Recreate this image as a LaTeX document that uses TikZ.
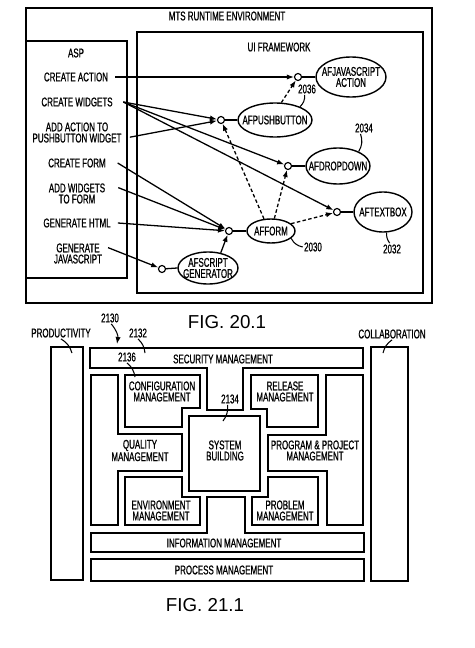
\documentclass[tikz,border=0pt]{standalone}
\usepackage{fontspec}
\newfontfamily\narrowfont{Liberation Sans}[FakeStretch=0.63, FakeBold=0.8]
\newfontfamily\figfont{Liberation Sans}
\usepackage{tikz}
\usetikzlibrary{shapes, arrows, positioning, arrows.meta}

\tikzset{
  txt/.style={font=\narrowfont\fontsize{10.8}{9.5}\selectfont, align=center, inner sep=1pt},
  figtxt/.style={font=\figfont\fontsize{16}{16}\selectfont, inner sep=0pt},
  elip/.style={draw, ellipse, line width=1.2pt, inner sep=0pt},
  port/.style={draw, circle, fill=white, line width=1pt, inner sep=0pt, minimum size=0.21cm},
  caja/.style={draw, line width=1.3pt},
  flecha/.style={line width=1.1pt, -{Latex[length=6pt,width=4.5pt]}},
  punteada/.style={flecha, dash pattern=on 3pt off 2pt},
  guia/.style={line width=0.9pt},
}

\begin{document}
\begin{tikzpicture}[x=0.03cm, y=-0.03cm]
        \useasboundingbox (0,0) rectangle (474,648);
        % FIG. 20.1
        % Marcos
        \draw[caja] (26,8) rectangle (432,303);
        \draw[caja] (137,32) rectangle (423,293);
        \draw[caja] (26,41) rectangle (127,278);
        \node[txt] (mts) at (227,16) {MTS RUNTIME ENVIRONMENT};
        \node[txt] (uif) at (279,47) {UI FRAMEWORK};
        \node[txt] (asp) at (76,53) {ASP};
        % Metodos de ASP
        \node[txt] (ca) at (76,77) {CREATE ACTION};
        \node[txt] (cw) at (77,102) {CREATE WIDGETS};
        \node[txt] (aa) at (77,132.5) {ADD ACTION TO\\PUSHBUTTON WIDGET};
        \node[txt] (cf) at (77,163) {CREATE FORM};
        \node[txt] (aw) at (77,193.5) {ADD WIDGETS\\TO FORM};
        \node[txt] (gh) at (77,223) {GENERATE HTML};
        \node[txt] (gj) at (78,253.5) {GENERATE\\JAVASCRIPT};
        % Objetos del UI framework
        \node[elip, minimum width=2.1cm, minimum height=1.2cm, label={[txt]center:AFJAVASCRIPT\\ACTION}] (ajs) at (351,77) {};
        \node[elip, minimum width=2.22cm, minimum height=1.02cm, label={[txt]center:AFPUSHBUTTON}] (apb) at (275,120) {};
        \node[elip, minimum width=1.92cm, minimum height=1.08cm, label={[txt]center:AFDROPDOWN}] (add) at (338,166) {};
        \node[elip, minimum width=1.74cm, minimum height=1.2cm, label={[txt]center:AFTEXTBOX}] (atb) at (383,212) {};
        \node[elip, minimum width=1.44cm, minimum height=0.72cm, label={[txt]center:AFFORM}] (afm) at (271,231) {};
        \node[elip, minimum width=1.8cm, minimum height=0.96cm, label={[txt]center:AFSCRIPT\\GENERATOR}] (asg) at (208,268) {};
        % Puertos
        \node[port] (pjs) at (298,77) {};
        \node[port] (ppb) at (221,120) {};
        \node[port] (pdd) at (288,166) {};
        \node[port] (ptb) at (337,212) {};
        \node[port] (pfm) at (229,231) {};
        \node[port] (psg) at (162,269) {};
        \draw[line width=1.1pt] (pjs) -- (ajs.west);
        \draw[line width=1.1pt] (ppb) -- (apb.west);
        \draw[line width=1.1pt] (pdd) -- (add.west);
        \draw[line width=1.1pt] (ptb) -- (atb.west);
        \draw[line width=1.1pt] (pfm) -- (afm.west);
        \draw[line width=1.1pt] (psg) -- (asg.west);
        % Llamadas
        \draw[flecha] ([xshift=5pt]ca.east) -- (pjs);
        \draw[flecha] ([xshift=8pt]cw.east) -- (ppb);
        \draw[flecha] ([xshift=8pt]cw.east) -- (pdd);
        \draw[flecha] ([xshift=8pt]cw.east) -- (ptb);
        \draw[flecha] ([xshift=6pt,yshift=-4pt]aa.east) -- (ppb);
        \draw[flecha] ([xshift=9pt]cf.east) -- (pfm);
        \draw[flecha] ([xshift=10pt,yshift=5pt]aw.east) -- (pfm);
        \draw[flecha] ([xshift=5pt]gh.east) -- (pfm);
        \draw[flecha] ([xshift=4pt,yshift=5pt]gj.east) -- (psg);
        \draw[flecha] (asg.50) -- (pfm);
        % Dependencias
        \draw[punteada] (apb.70) -- (pjs);
        \draw[punteada] (afm.120) -- (ppb);
        \draw[punteada] (afm.75) -- (pdd);
        \draw[punteada] (afm.20) -- (ptb);
        % Referencias
        \node[txt] (n2036) at (307,89) {2036};
        \node[txt] (n2034) at (364,128) {2034};
        \node[txt] (n2032) at (392,249) {2032};
        \node[txt] (n2030) at (313,247) {2030};
        \draw[guia] ([xshift=-2pt]n2036.south) to[bend left=25] (apb.28);
        \draw[guia] ([xshift=-3pt]n2034.south) to[bend left=25] (add.35);
        \draw[guia] ([xshift=-2pt]n2032.north) to[bend left=20] (atb.-80);
        \draw[guia] (n2030.west) to[bend left=25] (afm.-20);
        \node[figtxt] (f20) at (227,322) {FIG. 20.1};

        % FIG. 21.1
        % Columnas laterales
        \draw[caja] (51,347) rectangle (83,580);
        \draw[caja] (371,347) rectangle (408,581);
        % Bloques
        \draw[caja] (90,348) -- (363,348) -- (363,368) -- (243,368) -- (243,410) -- (207,410) -- (207,368) -- (90,368) -- cycle;
        \draw[caja] (125,375) -- (200,375) -- (200,408) -- (182,408) -- (182,427) -- (125,427) -- cycle;
        \draw[caja] (251,375) -- (318,375) -- (318,427) -- (267,427) -- (267,409) -- (251,409) -- cycle;
        \draw[caja] (91,375) -- (118,375) -- (118,434) -- (182,434) -- (182,471) -- (118,471) -- (118,525) -- (91,525) -- cycle;
        \draw[caja] (326,375) -- (363,375) -- (363,525) -- (327,525) -- (327,471) -- (268,471) -- (268,435) -- (326,435) -- cycle;
        \draw[caja] (189,416) rectangle (260,491);
        \draw[caja] (125,477) -- (182,477) -- (182,497) -- (200,497) -- (200,525) -- (125,525) -- cycle;
        \draw[caja] (268,477) -- (318,477) -- (318,525) -- (252,525) -- (252,497) -- (268,497) -- cycle;
        \draw[caja] (91,533) -- (207,533) -- (207,497) -- (245,497) -- (245,533) -- (364,533) -- (364,552) -- (91,552) -- cycle;
        \draw[caja] (91,559) rectangle (364,581);
        % Textos
        \node[txt] (prod) at (61,333) {PRODUCTIVITY};
        \node[txt] (colab) at (392,334) {COLLABORATION};
        \node[txt] (secm) at (223,359) {SECURITY MANAGEMENT};
        \node[txt] (confm) at (162,391.5) {CONFIGURATION\\MANAGEMENT};
        \node[txt] (relm) at (285,391.5) {RELEASE\\MANAGEMENT};
        \node[txt] (qualm) at (140,450.5) {QUALITY\\MANAGEMENT};
        \node[txt] (sysb) at (225,450.5) {SYSTEM\\BUILDING};
        \node[txt] (progm) at (315,450.5) {PROGRAM \& PROJECT\\MANAGEMENT};
        \node[txt] (envm) at (161,510.5) {ENVIRONMENT\\MANAGEMENT};
        \node[txt] (probm) at (285,510.5) {PROBLEM\\MANAGEMENT};
        \node[txt] (infm) at (224,543) {INFORMATION MANAGEMENT};
        \node[txt] (procm) at (224,570) {PROCESS MANAGEMENT};
        % Referencias
        \node[txt] (n2130) at (110,318) {2130};
        \node[txt] (n2132) at (138,333) {2132};
        \node[txt] (n2136) at (127,357) {2136};
        \node[txt] (n2134) at (230,399) {2134};
        \coordinate (e2130) at (117,344);
        \coordinate (e2132) at (145,353);
        \coordinate (e2136) at (135,377);
        \coordinate (e2134) at (223,421);
        \coordinate (eprod) at (72,353);
        \coordinate (ecolab) at (383,353);
        \draw[flecha, line width=0.9pt] ([xshift=1pt]n2130.south) to[bend left=25] (e2130);
        \draw[guia] (n2132.south) to[bend left=20] (e2132);
        \draw[guia] (n2136.south) to[bend left=20] (e2136);
        \draw[guia] ([xshift=-2pt]n2134.south) to[bend left=20] (e2134);
        \draw[guia] (prod.south) to[bend left=20] (eprod);
        \draw[guia] (colab.south) to[bend right=20] (ecolab);
        \node[figtxt] (f21) at (205,605) {FIG. 21.1};
\end{tikzpicture}
\end{document}
